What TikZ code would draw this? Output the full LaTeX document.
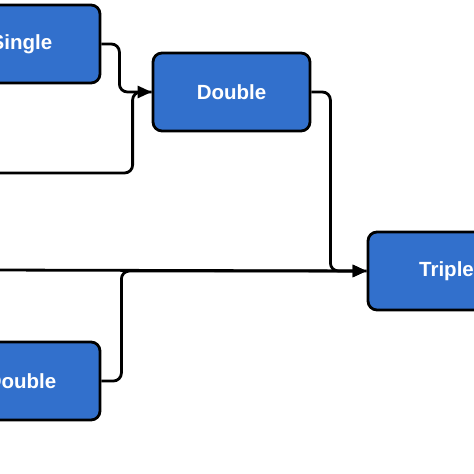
\documentclass[tikz,border=0pt]{standalone}
\usepackage{fontspec}
\setmainfont{Liberation Sans}
\usetikzlibrary{arrows.meta,calc}
\definecolor{boxblue}{RGB}{50,112,204}
\tikzset{
  blockbox/.style={draw=black, line width=2.8pt, fill=boxblue, rounded corners=9pt,
    minimum width=157pt, minimum height=78pt, inner sep=0pt,
    text=white, font=\bfseries\fontsize{20.5}{24}\selectfont},
  conn/.style={draw=black, line width=2.8pt, rounded corners=8pt},
  arr/.style={conn, -{Triangle[length=14pt,width=12pt]}}
}
\begin{document}
\begin{tikzpicture}[x=1pt,y=-1pt]
\useasboundingbox (0,0) rectangle (474,474);
\clip (0,0) rectangle (474,474);
\node[blockbox] (single) at (21.5,44) {Single};
\node[blockbox] (doubleA) at (231.5,92) {Double};
\node[blockbox] (triple) at (446.5,271) {Triple};
\node[blockbox] (doubleB) at (21.5,381) {Double};
\coordinate (inA) at (-10,173);
\coordinate (inB) at (-10,270);
\draw[arr] (single.east) -- ++(18,0) |- (doubleA.west);
\draw[conn] (inA) -| ($(doubleA.west)+(-19,0)$) -- (doubleA.west);
\draw[arr] (doubleA.east) -- ++(19,0) |- (triple.west);
\draw[arr] (inB) -- (triple.west);
\draw[conn] (doubleB.east) -- ++(20,0) |- (triple.west);
\end{tikzpicture}
\end{document}
